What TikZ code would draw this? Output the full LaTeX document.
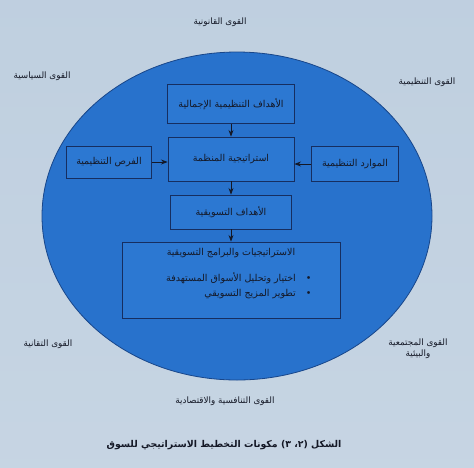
\documentclass[tikz,border=0pt]{standalone}
\usepackage{fontspec}
\usepackage{tikz}
\usetikzlibrary{
  arrows.meta,
  positioning,
  calc
}
\usepackage{xcolor}
\TeXXeTstate=1
\newfontfamily\arabicfont[Script=Arabic]{DejaVu Sans}
\newcommand{\ar}[1]{\beginR #1\endR}
\definecolor{paper}{RGB}{184,202,220}
\definecolor{disc}{RGB}{40,114,204}
\definecolor{discedge}{RGB}{24,70,138}
\definecolor{boxfill}{RGB}{44,120,210}
\definecolor{boxedge}{RGB}{22,46,96}
\definecolor{ink}{RGB}{20,24,38}

\begin{document}
\begin{tikzpicture}[
  x=1pt, y=-1pt,
  every node/.style={font=\arabicfont\fontsize{8.8}{11}\selectfont, text=ink},
  box/.style={draw=boxedge, fill=boxfill, line width=0.8pt,
              align=center, font=\arabicfont\fontsize{9.5}{11}\selectfont},
  force/.style={align=center},
  >=Stealth
]

\useasboundingbox (0,0) rectangle (474,467);
\fill[top color=paper!90!white, bottom color=paper!80!white] (0,0) rectangle (474,467);

% environment
\draw[fill=disc, draw=discedge, line width=0.8pt] (237,216) ellipse [x radius=195, y radius=164];

\node[force] (legal)   at (220,22)  {\ar{القوى القانونية}};
\node[force] (politic) at (42,76)   {\ar{القوى السياسية}};
\node[force] (orgf)    at (427,82)  {\ar{القوى التنظيمية}};
\node[force] (tech)    at (48,344)  {\ar{القوى التقانية}};
\node[force] (social)  at (418,349) {\ar{القوى المجتمعية}\\\ar{والبيئية}};
\node[force] (econ)    at (225,401) {\ar{القوى التنافسية والاقتصادية}};

% planning boxes
\node[box, minimum width=127pt, minimum height=39pt] (goals) at (231,104)
  {\ar{الأهداف التنظيمية الإجمالية}};
\node[box, minimum width=126pt, minimum height=44pt] (strat) at (231,159)
  {\ar{استراتيجية المنظمة}};
\node[box, minimum width=85pt, minimum height=32pt] (opps) at (109,162)
  {\ar{الفرص التنظيمية}};
\node[box, minimum width=87pt, minimum height=35pt] (res) at (355,164)
  {\ar{الموارد التنظيمية}};
\node[box, minimum width=121pt, minimum height=34pt] (mgoals) at (231,212)
  {\ar{الأهداف التسويقية}};
\node[box, minimum width=218pt, minimum height=76pt] (mprog) at (231,280) {};

\node[font=\arabicfont\fontsize{9.5}{11}\selectfont] (mtitle) at (231,253)
  {\ar{الاستراتيجيات والبرامج التسويقية}};
\node[anchor=east, font=\arabicfont\fontsize{9.5}{11}\selectfont] (item1) at (315,278)
  {\ar{•\hspace{10pt}اختيار وتحليل الأسواق المستهدفة}};
\node[anchor=east, font=\arabicfont\fontsize{9.5}{11}\selectfont] (item2) at (315,294)
  {\ar{•\hspace{10pt}تطوير المزيج التسويقي}};

% Arrows
\draw[->, thick, ink] (goals.south) -- (strat.north);
\draw[->, thick, ink] (opps.east) -- (opps.east -| strat.west);
\draw[->, thick, ink] (res.west) -- (res.west -| strat.east);
\draw[->, thick, ink] (strat.south) -- (mgoals.north);
\draw[->, thick, ink] (mgoals.south) -- (mprog.north);

% caption
\node[font=\arabicfont\bfseries\fontsize{9.4}{12}\selectfont] (caption) at (224,445)
  {\ar{الشكل (٢، ٣) مكونات التخطيط الاستراتيجي للسوق}};

\end{tikzpicture}
\end{document}
